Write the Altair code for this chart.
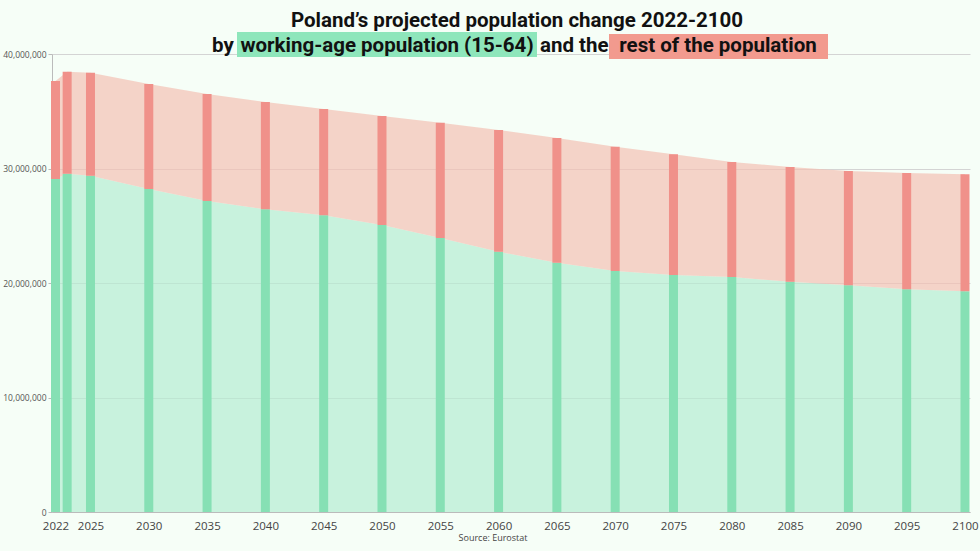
import altair as alt
import pandas as pd

# Eurostat projection for Poland (population, millions)
years = [2022, 2023, 2025, 2030, 2035, 2040, 2045, 2050, 2055, 2060,
         2065, 2070, 2075, 2080, 2085, 2090, 2095, 2100]
working_age = [29.08, 29.55, 29.37, 28.21, 27.16, 26.44, 25.91, 25.07, 23.93, 22.73,
               21.77, 21.05, 20.70, 20.52, 20.11, 19.80, 19.45, 19.28]
total_pop = [37.64, 38.46, 38.37, 37.38, 36.50, 35.81, 35.20, 34.59, 34.00, 33.36,
             32.66, 31.90, 31.24, 30.57, 30.13, 29.78, 29.60, 29.49]

x_ticks = [2022, 2025, 2030, 2035, 2040, 2045, 2050, 2055, 2060, 2065,
           2070, 2075, 2080, 2085, 2090, 2095, 2100]
y_ticks = [0, 10_000_000, 20_000_000, 30_000_000, 40_000_000]

GREEN_BAR, RED_BAR = "#86e0b4", "#f0918a"
GREEN_AREA, RED_AREA = "#b5ecd1", "#f3c0b4"
BG = "#f6fef7"

df = pd.DataFrame({
    "year": years,
    "zero": [0.0] * len(years),
    "working": [v * 1e6 for v in working_age],
    "total": [v * 1e6 for v in total_pop],
})

x_scale = alt.Scale(domain=[2021.7, 2100.43], nice=False, zero=False, padding=0)
y_scale = alt.Scale(domain=[0, 40_000_000], nice=False)

x_axis = alt.Axis(values=x_ticks, format="d", grid=False, tickSize=0,
                  labelFontSize=11.5, labelColor="#444", labelPadding=8,
                  labelFont="Open Sans", domainColor="#bbb")
y_axis = alt.Axis(values=y_ticks, format=",d", tickSize=4, tickColor="#bbb",
                  labelFontSize=8.5, labelColor="#555", labelPadding=2,
                  labelFont="Open Sans", gridColor="#d4d4d4", domainColor="#bbb")

base = alt.Chart(df)


def band(lo, hi, color):
    return base.mark_area(opacity=0.7, interpolate="linear", color=color).encode(
        x=alt.X("year:Q", scale=x_scale, title=None, axis=x_axis),
        y=alt.Y(f"{lo}:Q", scale=y_scale, title=None, axis=y_axis),
        y2=f"{hi}:Q",
    )


def bar(lo, hi, color):
    return base.mark_bar(size=9, color=color).encode(
        x=alt.X("year:Q", scale=x_scale),
        y=alt.Y(f"{lo}:Q", scale=y_scale),
        y2=f"{hi}:Q",
    )


one = pd.DataFrame({"k": [0]})
TITLE_FONT = "Roboto"
TS = 20.5


def box(x0, x1, y0, y1, color):
    return alt.Chart(one).mark_rect(color=color).encode(
        x=alt.value(x0 - 52), x2=alt.value(x1 - 52),
        y=alt.value(y0 - 54), y2=alt.value(y1 - 54))


def words(txt, x, baseline, align="left"):
    return alt.Chart(one).mark_text(
        text=txt, font=TITLE_FONT, fontSize=TS, fontWeight="bold", color="#111",
        align=align, baseline="alphabetic").encode(
        x=alt.value(x - 52), y=alt.value(baseline - 54))


# Title: two lines, with highlighter boxes behind the two group names
title_layers = [
    box(237, 537, 32, 57, "#8ee6bb"),
    box(609, 828, 34, 59, "#f29a8e"),
    words("Poland’s projected population change 2022-2100", 517, 27, "center"),
    words("by", 212, 52),
    words("working-age population (15-64)", 387, 52, "center"),
    words("and the", 540, 52),
    words("rest of the population", 718, 52, "center"),
]

source = alt.Chart(one).mark_text(
    text="Source: Eurostat", font="Open Sans", fontSize=9, color="#444",
    align="center", baseline="middle").encode(
    x=alt.value(493 - 52), y=alt.value(538 - 54))

chart = alt.layer(
    band("zero", "working", GREEN_AREA),
    band("working", "total", RED_AREA),
    bar("zero", "working", GREEN_BAR),
    bar("working", "total", RED_BAR),
    *title_layers,
    source,
).properties(
    width=918, height=458,
    autosize=alt.AutoSizeParams(type="none"),
    padding={"left": 52, "top": 54, "right": 10, "bottom": 39},
    background=BG,
).configure_view(stroke=None)

chart.save("out.html", embed_options={"renderer": "svg", "actions": False})
